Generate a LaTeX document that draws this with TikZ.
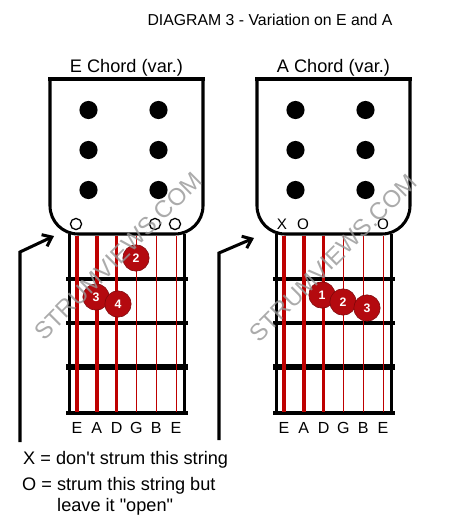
\documentclass[tikz,border=0pt]{standalone}
\usepackage{fontspec}
\setmainfont{Liberation Sans}[Ligatures=TeXOff]
\usepackage{tikz}
\usetikzlibrary{arrows.meta}
\definecolor{strred}{RGB}{190,0,0}
\definecolor{fingred}{RGB}{180,10,15}
\definecolor{wmgray}{RGB}{150,150,150}

\begin{document}
\begin{tikzpicture}[
  x=0.03cm, y=-0.03cm,
  head/.style={line width=2.6pt, line cap=rect},
  side/.style={line width=1.8pt},
  peg/.style={circle, fill=black, inner sep=0pt, minimum size=15.5pt},
  openring/.style={circle, draw, line width=1.1pt, inner sep=0pt, minimum size=9.5pt},
  xo/.style={inner sep=0pt, font=\fontsize{13}{13}\selectfont},
  finger/.style={circle, fill=fingred, draw=fingred!70!black, line width=0.5pt,
    inner sep=0pt, minimum size=22.5pt, text=white,
    font=\bfseries\fontsize{10.5}{10.5}\selectfont},
  strlabel/.style={anchor=base, inner sep=0pt, font=\fontsize{13.7}{14}\selectfont},
  pointer/.style={line width=2.6pt, -{Straight Barb[length=7pt,width=11pt]}},
  wmark/.style={text=wmgray, opacity=0.8, rotate=45, inner sep=0pt,
    font=\fontsize{20.5}{21}\selectfont},
  font=\fontsize{15.5}{18}\selectfont]
  \useasboundingbox (0,0) rectangle (474,518);

  \node[anchor=base, font=\fontsize{13.5}{16}\selectfont] (title) at (270,25)
    {DIAGRAM 3 - Variation on E and A};

  % the two chord boxes
  \foreach \dx/\name in {0/E, 207/A} {
    \begin{scope}[shift={(\dx,0)}]
      \node[anchor=base] (name-\name) at (126.5,72) {\name\ Chord (var.)};
      % headstock
      \draw[head] (50,79) -- (203,79);
      \draw[head, rounded corners=24pt] (50,79) -- (50,234) -- (203,234) -- (203,79);
      \foreach \i/\px in {1/88.5, 2/158.5}
        \foreach \j/\py in {1/110, 2/150, 3/190}
          \node[peg] (peg-\name-\i-\j) at (\px,\py) {};
      % frets
      \foreach \y/\w in {279/3.4, 323/3.4, 367/4.4, 413/2.8}
        \draw[line width=\w pt] (66,\y) -- (188,\y);
      \draw[side] (69.5,234) -- (69.5,413);
      \draw[side] (184.5,234) -- (184.5,413);
      % strings
      \foreach \s/\w/\l in {1/3.8/E, 2/3.0/A, 3/2.1/D, 4/1.4/G, 5/1.0/B, 6/0.8/E} {
        \draw[strred, line width=\w pt] ({77+19.8*(\s-1)},235.5) -- ({77+19.8*(\s-1)},411.5);
        \node[strlabel] (lbl-\name-\s) at ({77+19.8*(\s-1)},433) {\l};
      }
    \end{scope}
  }

  % E chord
  \node[openring] (open-E-1) at (76,224) {};
  \node[openring] (open-E-5) at (155,224) {};
  \node[openring] (open-E-6) at (175,224) {};
  \node[finger] (fE2) at (136,258) {2};
  \node[finger] (fE3) at (96,297) {3};
  \node[finger] (fE4) at (118,304) {4};

  % A chord
  \node[xo] (mute-A-1) at (282,224) {X};
  \node[xo] (open-A-2) at (303,224) {O};
  \node[xo] (open-A-6) at (383,224) {O};
  \node[finger] (fA1) at (322,295) {1};
  \node[finger] (fA2) at (343,302) {2};
  \node[finger] (fA3) at (367,308) {3};

  % pointers to the X / O row
  \coordinate (footE) at (20,442);
  \coordinate (bendE) at (20,252);
  \coordinate (tipE) at (54,236);
  \draw[pointer] (footE) -- (bendE) -- (tipE);
  \coordinate (footA) at (219,440);
  \coordinate (bendA) at (219,253);
  \coordinate (tipA) at (254,238);
  \draw[pointer] (footA) -- (bendA) -- (tipA);

  % key
  \node[anchor=base west, inner sep=0pt] (keyX) at (23,464) {X = don't strum this string};
  \node[anchor=base west, inner sep=0pt] (keyO) at (22,490) {O = strum this string but};
  \node[anchor=base west, inner sep=0pt] (keyO2) at (57,511) {leave it "open"};

  % watermark
  \node[wmark] (wmE) at (118,256) {STRUMVIEWS.COM};
  \node[wmark] (wmA) at (333,258) {STRUMVIEWS.COM};
\end{tikzpicture}
\end{document}
